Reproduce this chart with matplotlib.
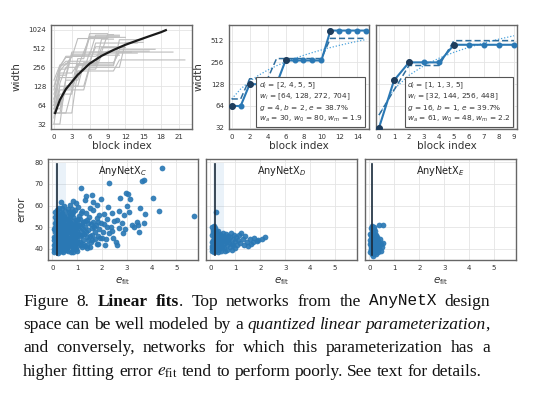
import numpy as np
import matplotlib
matplotlib.use('Agg')
import matplotlib.pyplot as plt
from matplotlib.ticker import NullLocator

# ---------------- data ----------------
# panel 1: widths of top AnyNetX networks (stage depths / stage widths)
net_depths = [[2, 4, 5, 5], [1, 1, 3, 5], [1, 3, 7, 12], [2, 3, 6, 10], [1, 4, 6, 7],
              [1, 2, 6, 8], [1, 3, 3, 8], [1, 2, 4, 5], [2, 2, 2, 6], [1, 1, 4, 4],
              [1, 2, 3, 7], [3, 3, 6, 4], [1, 1, 5, 5], [1, 3, 4, 3], [2, 3, 3, 4],
              [1, 2, 5, 7], [1, 1, 6, 5], [2, 2, 4, 6], [1, 1, 2, 6], [4, 2, 3, 2]]
net_widths = [[64, 128, 272, 704], [32, 144, 256, 448], [48, 112, 224, 336], [64, 160, 304, 448],
              [56, 128, 288, 496], [80, 176, 416, 464], [48, 96, 288, 624], [40, 240, 400, 832],
              [48, 128, 352, 800], [64, 256, 384, 880], [96, 192, 448, 768], [48, 112, 256, 640],
              [128, 256, 320, 544], [72, 208, 288, 720], [32, 176, 240, 400], [160, 280, 384, 432],
              [80, 224, 296, 528], [56, 120, 272, 448], [112, 272, 368, 736], [48, 224, 448, 848]]
fit_block = [0.2, 1, 2, 3, 4, 6, 8, 10, 12, 14, 16, 18, 18.8]
fit_width = [48, 78, 115, 150, 195, 294, 390, 484, 585, 686, 800, 930, 1000]

# panel 2 example
ex1_block = list(range(16))
ex1_width = [64, 64, 128, 128, 128, 128, 272, 272, 272, 272, 272, 704, 704, 704, 704, 704]
ex1_stage_start = [0, 2, 6, 11]
ex1_quant = [80, 80, 152, 152, 152, 289, 289, 289, 289, 289, 289, 549, 549, 549, 549, 549]
ex1_lin = [80, 110, 140, 170, 200, 230, 260, 290, 320, 350, 380, 410, 440, 470, 500, 530]
ex1_text = ["$d_i$ = [2, 4, 5, 5]", "$w_i$ = [64, 128, 272, 704]",
            "$g$ = 4, $b$ = 2, $e$ = 38.7%", "$w_a$ = 30, $w_0$ = 80, $w_m$ = 1.9"]

# panel 3 example
ex2_block = list(range(10))
ex2_width = [32, 144, 256, 256, 256, 448, 448, 448, 448, 448]
ex2_stage_start = [0, 1, 2, 5]
ex2_quant = [48, 106, 232, 232, 232, 511, 511, 511, 511, 511]
ex2_lin = [48, 109, 170, 231, 292, 353, 414, 475, 536, 597]
ex2_text = ["$d_i$ = [1, 1, 3, 5]", "$w_i$ = [32, 144, 256, 448]",
            "$g$ = 16, $b$ = 1, $e$ = 39.7%", "$w_a$ = 61, $w_0$ = 48, $w_m$ = 2.2"]

width_ticks_1 = [32, 64, 128, 256, 512, 1024]
width_ticks_2 = [32, 64, 128, 256, 512]

# bottom scatter: (e_fit, error)
anynetx_c = [(0.08,40.2),(0.1,42.5),(0.12,45.1),(0.1,47.8),(0.12,50.3),(0.15,39.0),(0.18,41.3),(0.2,43.6),
    (0.16,46.2),(0.22,48.9),(0.18,51.5),(0.25,39.8),(0.28,42.0),(0.3,44.4),(0.26,46.9),(0.32,49.2),(0.28,52.0),
    (0.35,40.6),(0.38,43.1),(0.4,45.5),(0.36,48.0),(0.42,50.4),(0.38,53.1),(0.45,41.4),(0.48,43.9),(0.5,46.4),
    (0.46,48.8),(0.52,51.2),(0.55,39.4),(0.58,42.4),(0.56,44.8),(0.6,47.3),(0.58,49.9),(0.55,52.6),(0.15,53.5),
    (0.2,55.8),(0.3,57.2),(0.25,59.0),(0.35,61.5),(0.45,55.0),(0.5,57.5),(0.4,58.8),(0.12,56.9),(0.32,54.7),
    (0.22,38.3),(0.42,38.8),(0.05,44.0),(0.07,49.2),(0.09,52.1),(0.14,43.0),(0.24,41.0),(0.34,46.0),(0.44,44.2),
    (0.54,50.5),(0.2,50.0),(0.3,48.0),(0.48,40.0),(0.6,45.0),(0.38,42.0),(0.18,48.0),
    (0.62,40.8),(0.65,43.5),(0.68,46.0),(0.66,49.1),(0.7,51.8),(0.72,54.4),(0.75,41.9),(0.78,44.6),(0.8,47.2),
    (0.76,50.0),(0.82,52.9),(0.8,56.1),(0.85,39.9),(0.88,42.8),(0.9,45.3),(0.92,48.1),(0.88,50.9),(0.95,53.5),
    (0.9,58.0),(0.98,41.5),(1.0,44.2),(1.02,46.9),(1.05,49.6),(1.0,52.2),(1.08,55.0),(1.05,59.5),(1.1,43.0),
    (1.12,45.9),(1.15,48.4),(1.18,51.3),(1.12,54.0),(1.2,40.9),(0.7,60.2),(0.85,62.0),(0.95,61.0),(1.14,68.2),
    (0.65,57.0),(1.18,57.6),(0.74,38.8),(1.0,38.9),
    (1.25,44.0),(1.28,47.0),(1.3,50.1),(1.32,53.0),(1.35,56.5),(1.3,62.5),(1.38,42.0),(1.4,45.5),(1.45,48.6),
    (1.42,51.9),(1.48,54.8),(1.5,59.0),(1.55,43.2),(1.58,46.4),(1.6,49.5),(1.62,52.6),(1.65,57.8),(1.6,65.0),
    (1.7,44.8),(1.72,47.9),(1.75,51.0),(1.78,54.2),(1.8,60.5),(1.82,42.3),(1.85,46.2),(1.88,49.0),(1.9,55.5),
    (1.95,52.0),(1.98,63.2),(1.78,42.4),(1.5,41.0),(1.35,64.5),(1.65,61.8),(1.92,45.2),
    (2.05,48.0),(2.1,51.5),(2.08,56.0),(2.15,44.5),(2.14,41.9),(2.2,53.8),(2.25,59.5),(2.3,70.3),(2.28,47.2),
    (2.35,50.2),(2.4,56.8),(2.45,45.0),(2.5,53.0),(2.55,43.1),(2.59,41.9),(2.61,53.4),(2.68,49.6),(2.7,57.5),
    (2.74,63.7),(2.8,52.0),(2.85,47.5),(2.9,55.5),(2.96,65.9),(3.04,65.5),(2.95,49.3),
    (3.08,57.0),(3.15,63.2),(3.2,51.1),(3.3,50.0),(3.4,52.6),(3.47,51.1),(3.55,58.9),(3.62,71.2),(3.68,52.2),
    (3.7,72.0),(3.75,56.0),(4.05,63.7),(4.29,57.6),(4.42,77.2),(5.73,55.4),(3.5,48.0),(3.0,60.0),
    (0.13,41.0),(0.23,44.8),(0.33,47.5),(0.43,51.8),(0.53,42.8),(0.63,45.2),(0.73,48.5),(0.83,44.0),(0.93,51.0),
    (0.17,44.4),(0.27,50.8),(0.37,51.0),(0.47,53.5),(0.57,55.3),(0.67,52.5),(0.77,46.0),(0.87,48.0),(0.97,43.5),
    (0.11,54.8),(0.21,46.5),(0.31,42.6),(0.41,47.0),(0.51,44.0),(0.61,50.0),(0.71,43.0),(0.81,40.5),(0.91,42.0),
    (1.01,48.0),(1.11,50.5),(1.21,46.5),(1.31,41.5),(1.41,53.5),(1.51,46.0),(1.61,44.0),(0.29,40.2),(0.39,55.8),
    (0.49,48.0),(0.59,40.8),(0.69,55.9),(0.79,58.5),
    (0.06,38.6),(0.09,39.5),(0.14,40.0),(0.19,39.6),(0.24,38.9),(0.34,39.2),(0.44,39.6),(0.54,40.5),(0.64,39.0),
    (0.84,38.5),(0.07,41.8),(0.16,42.3),(0.26,43.2),(0.36,41.5),(0.46,42.9),(0.56,41.2),(0.66,41.6),(0.76,42.8),
    (0.86,41.2),(0.96,40.0),(0.08,45.6),(0.19,45.8),(0.29,45.6),(0.39,44.2),(0.49,45.3),(0.59,43.6),(0.69,44.7),
    (0.79,43.1),(0.89,46.6),(0.99,45.8),(0.1,49.0),(0.23,47.6),(0.33,50.6),(0.43,48.6),(0.53,47.6),(0.63,48.5),
    (0.73,50.6),(0.83,49.6),(0.94,49.8),(1.04,51.2),(0.13,52.0),(0.24,53.5),(0.34,52.4),(0.44,54.2),(0.54,54.0),
    (0.64,53.8),(0.74,52.2),(0.84,54.8),(1.02,53.8),(1.22,52.3),(0.17,57.8),(0.27,55.2),(0.37,56.8),(0.47,59.8),
    (0.62,58.5),(0.82,57.0),(1.15,56.5),(1.25,49.0),(1.35,47.8),(1.45,44.3),(1.55,51.5),(1.68,50.0),(1.25,42.5),
    (1.15,41.8),(1.05,42.6),(1.4,40.5),(2.0,45.0),(2.2,50.0),(1.85,52.5),(2.4,48.5)]
anynetx_d = [(0.05,39.0),(0.08,41.5),(0.1,44.0),(0.07,46.5),(0.12,48.8),(0.15,50.4),(0.14,38.5),(0.18,40.5),
    (0.2,42.8),(0.17,45.2),(0.22,47.4),(0.19,49.5),(0.25,39.5),(0.28,41.8),(0.3,44.2),(0.27,46.3),(0.32,48.2),
    (0.35,40.1),(0.38,42.5),(0.36,44.9),(0.4,46.8),(0.42,39.2),(0.45,41.0),(0.48,43.5),(0.46,45.8),(0.5,47.5),
    (0.1,43.0),(0.21,57.2),(0.13,45.5),(0.23,44.0),(0.33,42.9),(0.11,40.0),(0.09,47.7),(0.24,48.5),(0.06,43.2),
    (0.16,42.0),(0.26,43.4),(0.29,38.7),(0.34,46.5),(0.43,44.0),
    (0.55,40.3),(0.58,42.6),(0.6,44.9),(0.62,47.0),(0.65,39.5),(0.68,41.8),(0.7,44.1),(0.72,46.2),(0.75,43.0),
    (0.78,40.8),(0.8,45.5),(0.84,47.5),(0.86,42.2),(0.9,42.0),(0.92,44.8),(0.95,46.6),(0.98,40.6),(1.0,43.6),
    (1.04,45.7),(1.08,41.9),(1.1,44.2),(1.15,46.4),(1.2,42.8),(1.24,47.5),(0.6,39.0),(0.53,45.3),(0.66,43.5),
    (0.88,39.4),(1.3,44.5),(1.35,42.0),(1.4,45.8),(1.47,43.3),(1.57,44.7),(1.62,42.2),(1.7,43.0),(1.75,45.2),
    (1.85,43.8),(1.9,44.3),(2.05,44.8),(2.17,45.7),(1.5,41.5),
    (0.06,40.5),(0.12,42.0),(0.18,44.0),(0.24,46.0),(0.3,40.5),(0.36,43.0),(0.42,45.5),(0.48,41.5),(0.54,43.8),
    (0.15,47.0),(0.2,39.0),(0.28,45.0),(0.4,43.5),(0.08,50.0),(0.16,48.5)]
anynetx_e = [(0.02,38.5),(0.05,40.2),(0.08,42.0),(0.04,44.1),(0.07,46.0),(0.1,48.0),(0.06,49.7),(0.12,39.2),
    (0.15,41.0),(0.13,43.2),(0.17,45.0),(0.14,47.2),(0.18,49.2),(0.2,38.0),(0.22,40.0),(0.25,42.1),(0.21,44.3),
    (0.27,46.3),(0.24,48.2),(0.3,39.5),(0.33,41.5),(0.36,43.6),(0.32,45.4),(0.4,40.3),(0.45,42.3),(0.42,44.5),
    (0.5,41.0),(0.55,42.8),(0.1,50.5),(0.2,50.3),(0.38,51.1),(0.54,51.0),(0.03,47.0),(0.09,37.8),(0.16,36.9),
    (0.28,37.6),(0.35,38.6),(0.48,39.0),(0.11,45.0),(0.23,43.0),(0.3,44.0),(0.08,41.0),(0.19,47.0),(0.26,39.0),
    (0.39,42.0),(0.01,42.5),(0.13,49.0),
    (0.05,43.0),(0.12,44.5),(0.18,42.5),(0.24,45.5),(0.28,41.0),(0.34,40.0),(0.06,39.3),(0.15,38.0),(0.22,46.5),
    (0.1,41.5)]
scatter_titles = ["AnyNetX$_C$", "AnyNetX$_D$", "AnyNetX$_E$"]
thresh_line = [0.2, 0.18, 0.1]
thresh_span = [(0.1, 0.53), (0.1, 0.55), (0.05, 0.15)]
thresh_err = (37, 79.5)
err_ticks = [40, 50, 60, 70, 80]
efit_ticks = [0, 1, 2, 3, 4, 5]

# ---------------- figure ----------------
W, H = 552, 394
fig = plt.figure(figsize=(W / 100, H / 100), dpi=100)

def axes_px(l, t, r, b, **kw):
    return fig.add_axes([l / W, 1 - b / H, (r - l) / W, (b - t) / H], **kw)

LAB = '#333333'

def style(ax):
    for s in ax.spines.values():
        s.set_color('#666666')
        s.set_linewidth(1.0)
    ax.grid(True, color='#e4e4e4', lw=0.6)
    ax.set_axisbelow(True)
    ax.tick_params(length=0, labelsize=5, colors=LAB, pad=3.5)

BLUE = '#2a78b4'
DARK = '#1f3d5c'

# Panel 1
ax1 = axes_px(51, 25, 192, 129)
style(ax1)
for d, w in zip(net_depths, net_widths):
    ws = np.repeat(w, d)
    ax1.plot(np.arange(len(ws)), ws, color='#bdbdbd', lw=0.8, zorder=2)
ax1.plot(fit_block, fit_width, color='#1a1a1a', lw=1.6, zorder=3)
ax1.set_yscale('log', base=2)
ax1.set_yticks(width_ticks_1)
ax1.set_yticklabels([str(t) for t in width_ticks_1])
ax1.yaxis.set_minor_locator(NullLocator())
ax1.set_ylim(26.7, 1209)
ax1.set_xticks(range(0, 22, 3))
ax1.set_xlim(-0.5, 23.2)
ax1.set_xlabel('block index', fontsize=7.5, color=LAB)
ax1.set_ylabel('width', fontsize=7.5, color=LAB)
ax1.xaxis.set_label_coords(0.5, -0.12)
ax1.yaxis.set_label_coords(-0.21, 0.5)

# Panels 2 & 3
ax2 = axes_px(229, 25, 369, 129)
ax3 = axes_px(376, 25, 517, 129, sharey=ax2)
for ax, bl, wd, ss, q, ln, txt, xt, xl in [
        (ax2, ex1_block, ex1_width, ex1_stage_start, ex1_quant, ex1_lin, ex1_text, range(0, 15, 2), (-0.3, 15.3)),
        (ax3, ex2_block, ex2_width, ex2_stage_start, ex2_quant, ex2_lin, ex2_text, range(0, 10), (-0.2, 9.2))]:
    style(ax)
    ax.plot(bl, ln, color='#4da3dc', lw=0.9, ls=(0, (1, 1.5)), zorder=2)
    ax.plot(bl, q, color='#2f6e9e', lw=1.1, ls=(0, (4, 2)), zorder=3)
    ax.plot(bl, wd, color=BLUE, lw=1.5, marker='o', ms=3.3, zorder=4)
    ax.plot([bl[i] for i in ss], [wd[i] for i in ss], ls='none', marker='o', ms=4.0, color=DARK, zorder=5)
    ax.set_yscale('log', base=2)
    ax.set_xticks(list(xt))
    ax.set_xlim(*xl)
    ax.set_xlabel('block index', fontsize=7.5, color=LAB)
    ax.xaxis.set_label_coords(0.5, -0.12)
    ax.text(0.955, 0.045, "\n".join(txt), transform=ax.transAxes, ha='right', va='bottom',
            multialignment='left', fontsize=5.3, color=LAB, linespacing=1.15, zorder=6,
            bbox=dict(boxstyle='square,pad=0.3', fc='white', ec='#555555', lw=0.8))
ax2.set_yticks(width_ticks_2)
ax2.set_yticklabels([str(t) for t in width_ticks_2])
ax2.yaxis.set_minor_locator(NullLocator())
ax2.set_ylim(30.8, 840)
ax2.set_ylabel('width', fontsize=7.5, color=LAB)
ax2.yaxis.set_label_coords(-0.185, 0.5)
ax3.tick_params(labelleft=False)

# Bottom scatter panels
ax4 = axes_px(48, 159, 198, 260)
ax5 = axes_px(206, 159, 357, 260, sharey=ax4, sharex=ax4)
ax6 = axes_px(365, 159, 516, 260, sharey=ax4, sharex=ax4)
for i, (ax, pts) in enumerate(zip((ax4, ax5, ax6), (anynetx_c, anynetx_d, anynetx_e))):
    style(ax)
    xs = [p[0] for p in pts]
    ys = [p[1] for p in pts]
    ax.fill_between(list(thresh_span[i]), thresh_err[0], thresh_err[1], color='#5fa2d8', alpha=0.13, lw=0, zorder=1)
    ax.scatter(xs, ys, s=17, color=BLUE, alpha=0.92, lw=0, zorder=3)
    ax.plot([thresh_line[i], thresh_line[i]], [37, 79], color='#1b2b3b', lw=1.2, zorder=4)
    ax.text(0.5, 0.95, scatter_titles[i], transform=ax.transAxes, ha='center', va='top',
            fontsize=7, color='#222222')
    ax.set_xlabel('$e_{\\mathrm{fit}}$', fontsize=7.5, color=LAB)
    ax.xaxis.set_label_coords(0.5, -0.15)
ax4.set_yticks(err_ticks)
ax4.set_ylim(34.9, 81.5)
ax4.set_xticks(efit_ticks)
ax4.set_xlim(-0.18, 5.88)
ax4.set_ylabel('error', fontsize=7.5, color=LAB)
ax4.yaxis.set_label_coords(-0.142, 0.5)
ax5.tick_params(labelleft=False)
ax6.tick_params(labelleft=False)

# ---------------- caption ----------------
SERIF = 'Liberation Serif'
FS = 12.5
N = dict(family=SERIF, size=FS)
B = dict(family=SERIF, size=FS, weight='bold')
I = dict(family=SERIF, size=FS, style='italic')
M = dict(family='Liberation Mono', size=11.6)
caption_lines = [
    [[("Figure", N)], [("8.", N)], [("Linear", B)], [("fits", B), (".", N)], [("Top", N)], [("networks", N)],
     [("from", N)], [("the", N)], [("AnyNetX", M)], [("design", N)]],
    [[(w, N)] for w in "space can be well modeled by a".split()] +
    [[("quantized", I)], [("linear", I)], [("parameterization", I), (",", N)]],
    [[(w, N)] for w in "and conversely, networks for which this parameterization has a".split()],
    [[(w, N)] for w in "higher fitting error".split()] + [[("$e_{\\mathrm{fit}}$", N)]] +
    [[(w, N)] for w in "tend to perform poorly. See text for details.".split()],
]
justify = [True, True, True, False]
baselines = [305.5, 329.0, 352.5, 376.0]
X0, X1 = 23, 490
fig.canvas.draw()
renderer = fig.canvas.get_renderer()
for line, just, yb in zip(caption_lines, justify, baselines):
    objs = []
    widths = []
    for word in line:
        wobjs = []
        ww = 0
        for s, p in word:
            t = fig.text(0, 0, s, va='baseline', ha='left', color='#111111',
                         fontfamily=p['family'], fontsize=p['size'],
                         fontweight=p.get('weight', 'normal'), fontstyle=p.get('style', 'normal'),
                         math_fontfamily='stix')
            bw = t.get_window_extent(renderer).width
            wobjs.append((t, ww))
            ww += bw
        objs.append(wobjs)
        widths.append(ww)
    if just and len(line) > 1:
        gap = (X1 - X0 - sum(widths)) / (len(line) - 1)
    else:
        gap = FS * 100 / 72 * 0.25
    x = X0
    for wobjs, ww in zip(objs, widths):
        for t, off in wobjs:
            t.set_position(((x + off) / W, 1 - yb / H))
        x += ww + gap

fig.savefig('out.png', dpi=100)
